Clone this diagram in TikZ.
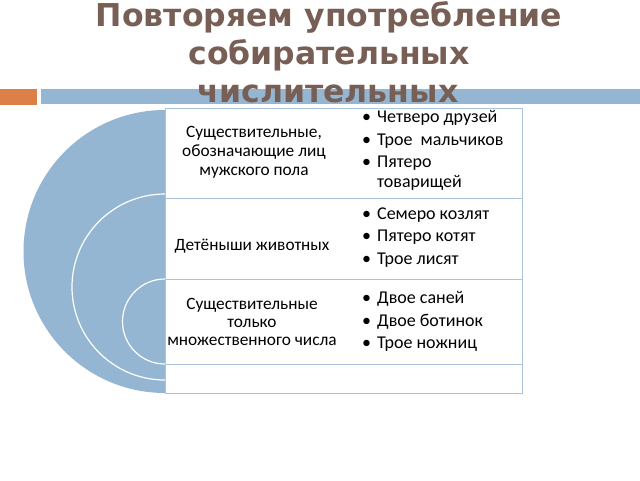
\documentclass[tikz,border=0pt]{standalone}
\usepackage{fontspec}
\setmainfont{Carlito}
\newfontfamily\titlefont{DejaVu Sans}
\definecolor{ttl}{HTML}{775F55}
\definecolor{acc}{HTML}{94B6D2}
\definecolor{org}{HTML}{DD8047}
\definecolor{edge}{HTML}{A9C4DC}
\tikzset{
  titletxt/.style={font=\titlefont\bfseries\fontsize{31.5}{38}\selectfont, text=ttl, anchor=base, inner sep=0pt},
  panel/.style={draw=edge, fill=white, line width=0.8pt},
  ring/.style={draw=white, line width=1.2pt},
  lefttxt/.style={font=\fontsize{17.3}{19}\selectfont, align=center, inner sep=0pt},
  listtxt/.style={font=\fontsize{18}{20}\selectfont, anchor=west, inner sep=0pt}
}
\begin{document}
\begin{tikzpicture}[x=1pt,y=-1pt]
\useasboundingbox (0,0) rectangle (640,480);
\fill[white] (0,0) rectangle (640,480);
% bars
\fill[org] (0,89) rectangle (37,105);
\fill[acc] (41,89) rectangle (640,104);
% title
\node[titletxt] (t1) at (329,26) {Повторяем употребление};
\node[titletxt] (t2) at (329,64) {собирательных};
\node[titletxt] (t3) at (328,102) {числительных};
% circles
\fill[acc] (165,251.5) circle[radius=141.5];
\draw[ring] (165,287) circle[radius=93];
\draw[ring] (165,321.5) circle[radius=42.5];
% panels
\draw[panel] (165,108) rectangle (522,198);
\draw[panel] (165,198) rectangle (522,279);
\draw[panel] (165,279) rectangle (522,364);
\draw[panel] (165,364) rectangle (522,393);
% left texts
\node[lefttxt] (l1) at (254,152) {Существительные,\\обозначающие лиц\\мужского пола};
\node[lefttxt] (l2) at (252,246) {Детёныши животных};
\node[lefttxt, font=\fontsize{17.3}{18}\selectfont] (l3) at (252,322) {Существительные\\только\\множественного числа};
% right lists
\node[listtxt] (r1) at (362,151) {\begin{tabular}{@{}c@{\hspace{6pt}}l@{}}
•&Четверо друзей\\[2.5pt]
•&Трое~~мальчиков\\[2.5pt]
•&Пятеро\\
 &товарищей
\end{tabular}};
\node[listtxt] (r2) at (362,237.5) {\begin{tabular}{@{}c@{\hspace{6pt}}l@{}}
•&Семеро козлят\\[2.5pt]
•&Пятеро котят\\[2.5pt]
•&Трое лисят
\end{tabular}};
\node[listtxt] (r3) at (362,322) {\begin{tabular}{@{}c@{\hspace{6pt}}l@{}}
•&Двое саней\\[2.5pt]
•&Двое ботинок\\[2.5pt]
•&Трое ножниц
\end{tabular}};
\end{tikzpicture}
\end{document}
